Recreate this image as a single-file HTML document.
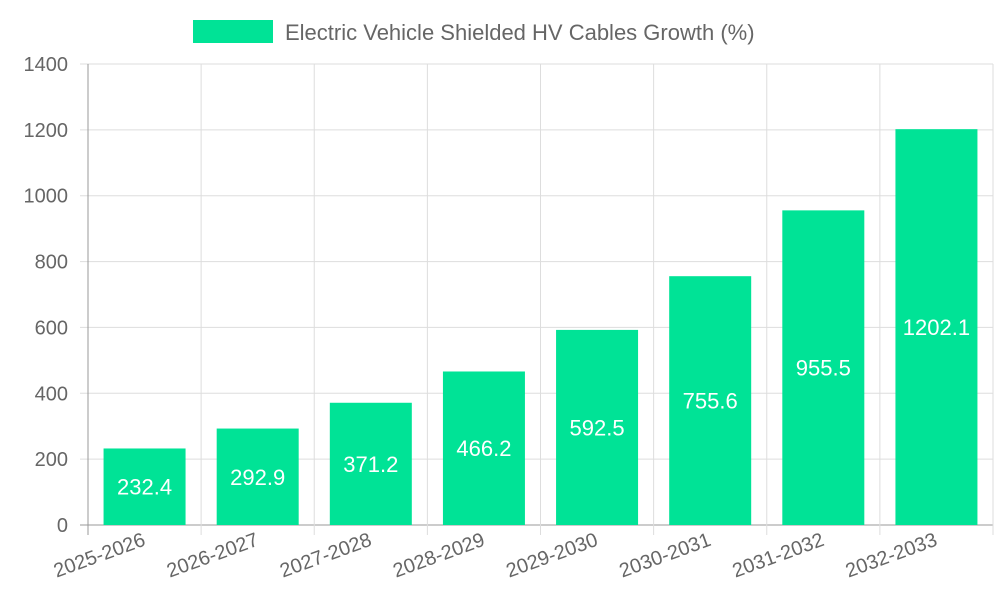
<!DOCTYPE html>
<html><head><meta charset="utf-8"><style>
body{margin:0;background:#fff;}
svg{display:block;font-family:"Liberation Sans",sans-serif;}
</style></head><body>
<svg id="chart" width="1000" height="600">
<g>
<rect x="193" y="20" width="80" height="23" fill="#00e396"/>
<text x="285" y="40" font-size="22" fill="#666">Electric Vehicle Shielded HV Cables Growth (%)</text>
</g>
<g id="grid"></g><g id="bars"></g><g id="labels"></g>
</svg>
<script>
const categories=["2025-2026","2026-2027","2027-2028","2028-2029","2029-2030","2030-2031","2031-2032","2032-2033"];
const values=[232.4,292.9,371.2,466.2,592.5,755.6,955.5,1202.1];
const yTicks=[0,200,400,600,800,1000,1200,1400];
const L=88,R=993,T=64,B=525,yMax=1400;
const NS="http://www.w3.org/2000/svg";
const y=v=>B-(v/yMax)*(B-T);
const bw=(R-L)/categories.length;
const x=i=>L+bw*i;
function mk(tag,attrs,parent,text){const e=document.createElementNS(NS,tag);for(const k in attrs)e.setAttribute(k,attrs[k]);if(text!==undefined)e.textContent=text;document.getElementById(parent).appendChild(e);return e;}
yTicks.forEach(t=>{
 const g=mk("line",{x1:L-8,x2:R,y1:y(t),y2:y(t),stroke:t===0?"#999":"#ddd","stroke-width":1},"grid");
 
 
 const tx=mk("text",{x:L-20,y:y(t)+7,"text-anchor":"end","font-size":20,fill:"#666"},"grid",t);
 
 
});
for(let i=0;i<=categories.length;i++){
 const g=mk("line",{x1:x(i),x2:x(i),y1:T,y2:B+10,stroke:i===0?"#999":"#ddd","stroke-width":1},"grid");
 
 
}
categories.forEach((c,i)=>{
 const cx=x(i)+bw/2, w=82;
 const r=mk("rect",{x:cx-w/2,y:y(values[i]),width:w,height:B-y(values[i]),fill:"#00e396"},"bars");
 
 
 const v=mk("text",{x:cx,y:(y(values[i])+B)/2+8,"text-anchor":"middle","font-size":22,fill:"#fff"},"labels",values[i]);
 
 
 const lx=cx+2, ly=545;
 const t=mk("text",{x:lx,y:ly,"text-anchor":"end","font-size":20,fill:"#666",transform:`rotate(-20 ${lx} ${ly})`},"labels",c);
 
 
});
</script>
</body></html>
